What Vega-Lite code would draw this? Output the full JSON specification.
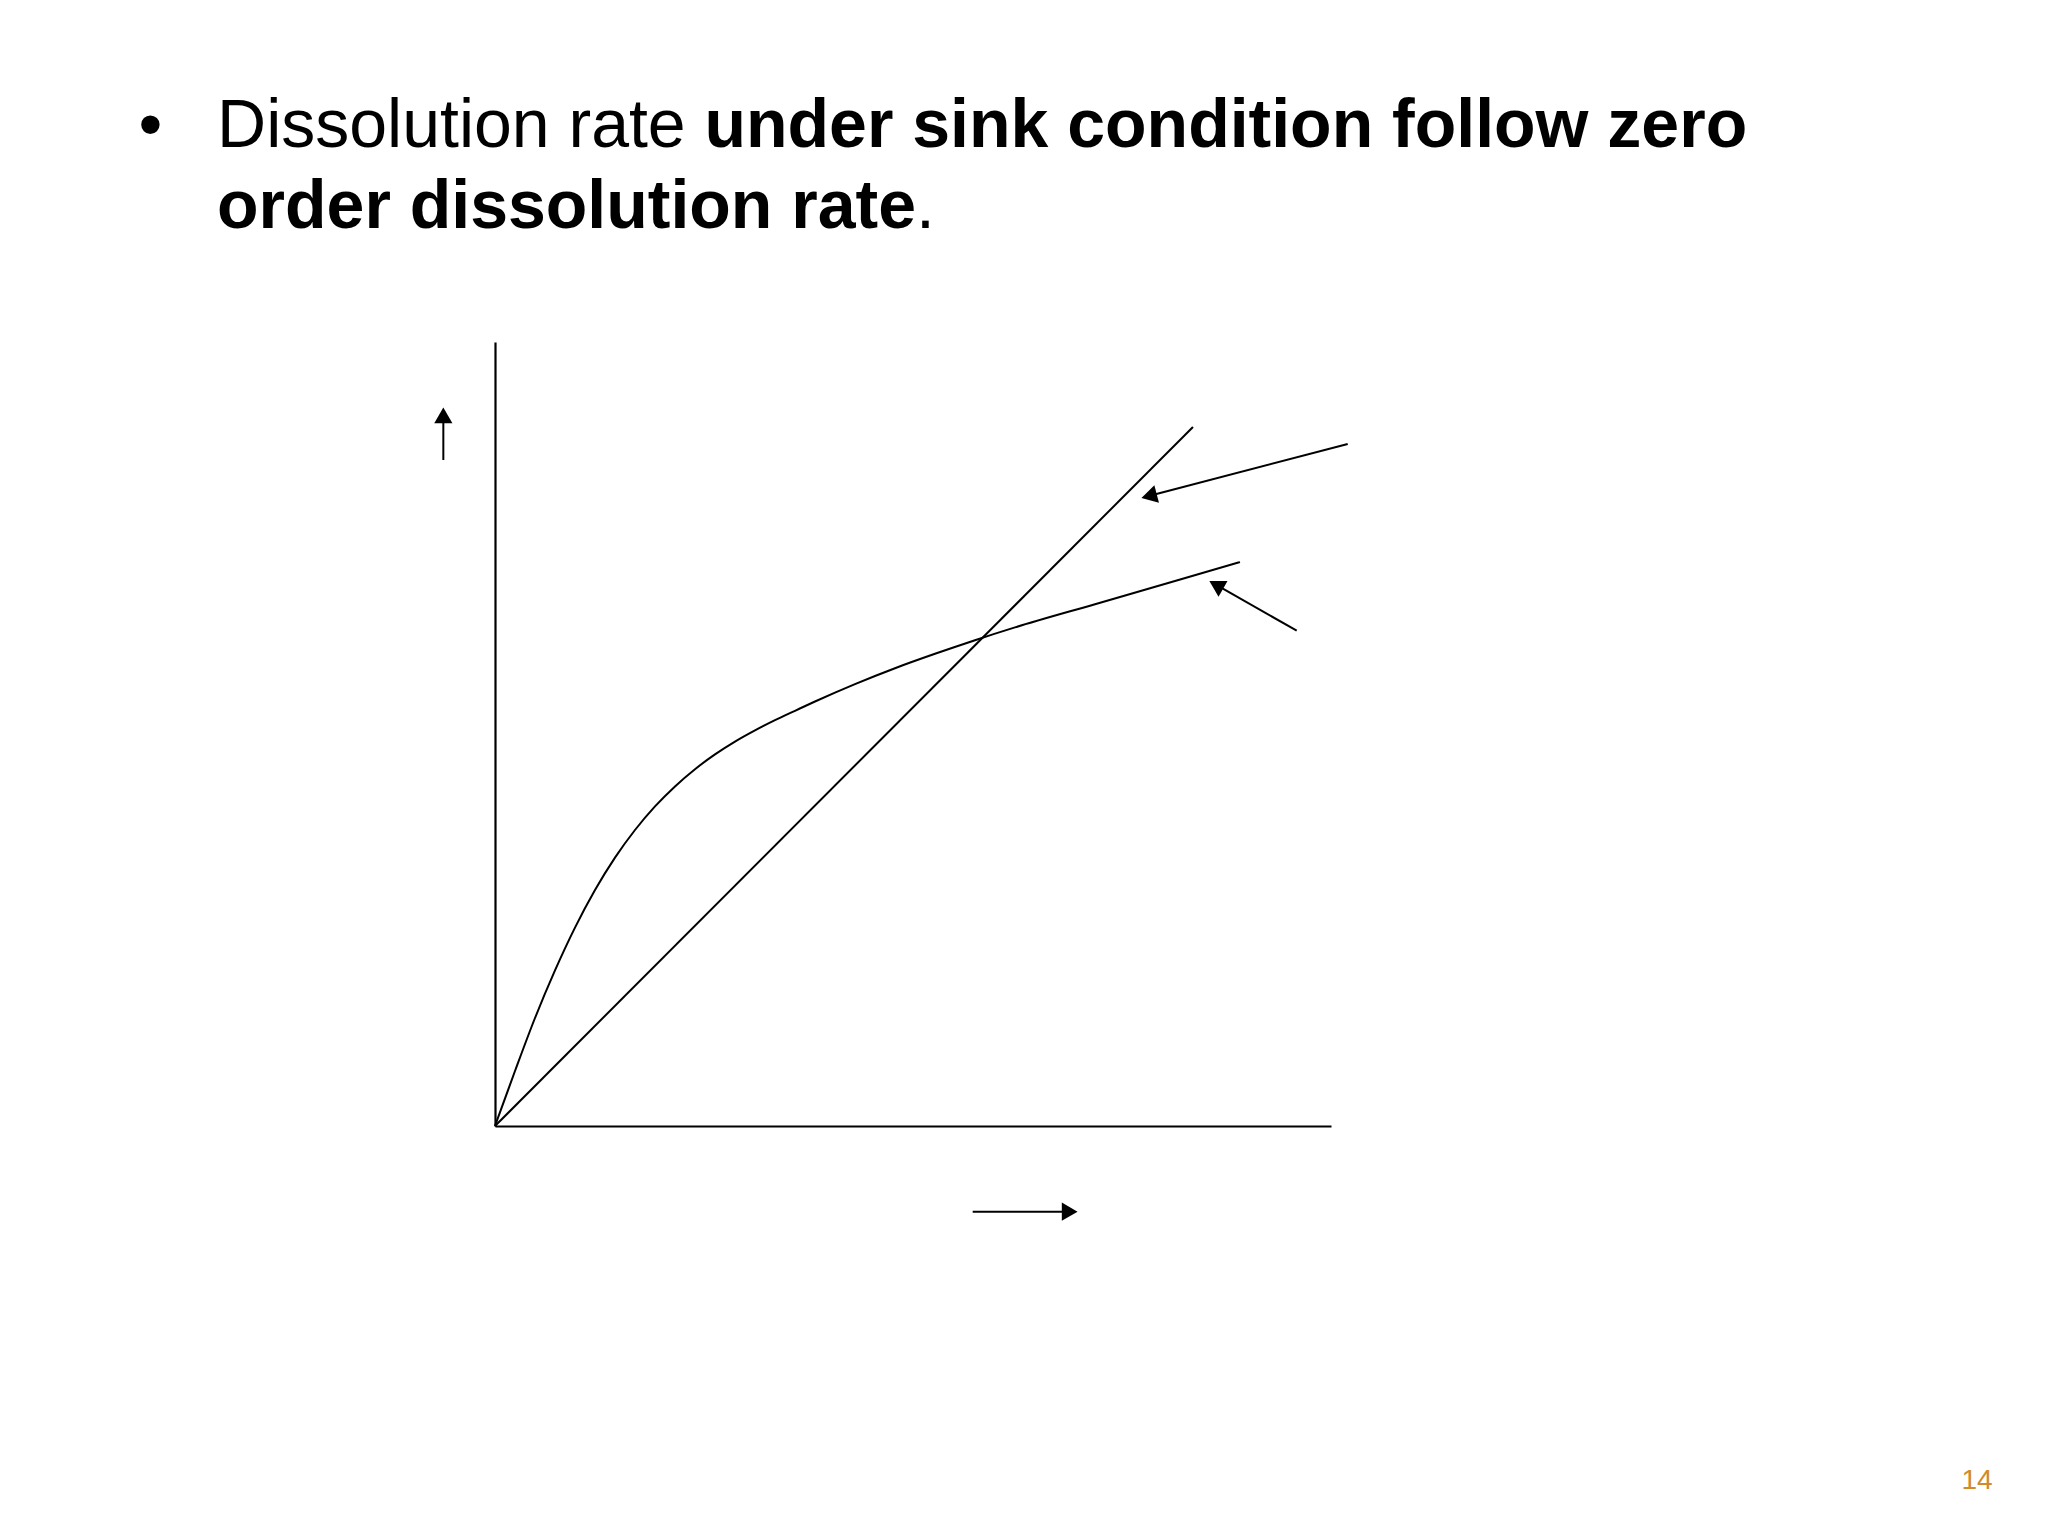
{
  "$schema": "https://vega.github.io/schema/vega-lite/v6.json",
  "autosize": {"type": "none"},
  "width": 836,
  "height": 784,
  "padding": {"left": 495, "top": 342, "right": 717, "bottom": 410},
  "background": "white",
  "config": {"view": {"stroke": null}},
  "datasets": {
    "curves": [
      {"series": "zero order", "t": 0, "amount": 0},
      {"series": "zero order", "t": 83.49, "amount": 89.16},
      {"series": "non-sink", "t": 0, "amount": 0},
      {"series": "non-sink", "t": 2.392, "amount": 7.015},
      {"series": "non-sink", "t": 4.785, "amount": 13.776},
      {"series": "non-sink", "t": 7.177, "amount": 19.847},
      {"series": "non-sink", "t": 9.569, "amount": 25.306},
      {"series": "non-sink", "t": 11.962, "amount": 30.102},
      {"series": "non-sink", "t": 14.354, "amount": 34.235},
      {"series": "non-sink", "t": 16.746, "amount": 37.755},
      {"series": "non-sink", "t": 19.139, "amount": 40.765},
      {"series": "non-sink", "t": 21.531, "amount": 43.316},
      {"series": "non-sink", "t": 23.923, "amount": 45.51},
      {"series": "non-sink", "t": 26.316, "amount": 47.398},
      {"series": "non-sink", "t": 28.708, "amount": 49.031},
      {"series": "non-sink", "t": 31.1, "amount": 50.459},
      {"series": "non-sink", "t": 33.493, "amount": 51.76},
      {"series": "non-sink", "t": 35.885, "amount": 52.959},
      {"series": "non-sink", "t": 38.278, "amount": 54.145},
      {"series": "non-sink", "t": 40.67, "amount": 55.281},
      {"series": "non-sink", "t": 43.062, "amount": 56.365},
      {"series": "non-sink", "t": 45.455, "amount": 57.398},
      {"series": "non-sink", "t": 47.847, "amount": 58.393},
      {"series": "non-sink", "t": 52.632, "amount": 60.23},
      {"series": "non-sink", "t": 57.416, "amount": 61.964},
      {"series": "non-sink", "t": 62.201, "amount": 63.597},
      {"series": "non-sink", "t": 71.77, "amount": 66.556},
      {"series": "non-sink", "t": 81.34, "amount": 69.515},
      {"series": "non-sink", "t": 89.115, "amount": 71.926}
    ],
    "arrows": [
      {"name": "to zero order", "x1": 102.0, "y1": 86.99, "x2": 78.54, "y2": 80.45, "angle": 255.3},
      {"name": "to non-sink", "x1": 95.9, "y1": 63.18, "x2": 86.54, "y2": 68.85, "angle": 299.7},
      {"name": "y direction", "x1": -6.18, "y1": 84.95, "x2": -6.18, "y2": 90.32, "angle": 0},
      {"name": "x direction", "x1": 57.14, "y1": -10.93, "x2": 68.43, "y2": -10.93, "angle": 90}
    ],
    "texts": [
      {"kind": "regular", "x": -42.64, "y": 124.91, "label": "•"},
      {"kind": "regular", "x": -33.25, "y": 124.91, "label": "Dissolution rate"},
      {"kind": "bold", "x": 25.06, "y": 124.91, "label": "under sink condition follow zero"},
      {"kind": "bold", "x": -33.25, "y": 114.5, "label": "order dissolution rate"},
      {"kind": "regular", "x": 50.36, "y": 114.5, "label": "."},
      {"kind": "page", "x": 177.27, "y": -46.3, "label": "14"}
    ]
  },
  "layer": [
    {
      "data": {"name": "curves"},
      "mark": {"type": "line", "interpolate": "monotone", "color": "#000000", "strokeWidth": 2},
      "encoding": {
        "x": {"field": "t", "type": "quantitative", "scale": {"domain": [0, 100], "nice": false, "zero": false},
              "axis": {"title": null, "ticks": false, "labels": false, "grid": false, "domainColor": "#000000", "domainWidth": 2.2}},
        "y": {"field": "amount", "type": "quantitative", "scale": {"domain": [0, 100], "nice": false, "zero": false},
              "axis": {"title": null, "ticks": false, "labels": false, "grid": false, "domainColor": "#000000", "domainWidth": 2.2}},
        "detail": {"field": "series"}
      }
    },
    {
      "data": {"name": "arrows"},
      "mark": {"type": "rule", "color": "#000000", "strokeWidth": 2},
      "encoding": {
        "x": {"field": "x1", "type": "quantitative"},
        "y": {"field": "y1", "type": "quantitative"},
        "x2": {"field": "x2"},
        "y2": {"field": "y2"}
      }
    },
    {
      "data": {"name": "arrows"},
      "mark": {"type": "point", "shape": "triangle", "filled": true, "color": "#000000", "size": 330, "opacity": 1},
      "encoding": {
        "x": {"field": "x2", "type": "quantitative"},
        "y": {"field": "y2", "type": "quantitative"},
        "angle": {"field": "angle", "type": "quantitative", "scale": null}
      }
    },
    {
      "data": {"name": "texts"},
      "transform": [{"filter": "datum.kind === 'regular'"}],
      "mark": {"type": "text", "align": "left", "baseline": "alphabetic", "font": "Liberation Sans", "fontSize": 68, "color": "#000000"},
      "encoding": {
        "x": {"field": "x", "type": "quantitative"},
        "y": {"field": "y", "type": "quantitative"},
        "text": {"field": "label"}
      }
    },
    {
      "data": {"name": "texts"},
      "transform": [{"filter": "datum.kind === 'bold'"}],
      "mark": {"type": "text", "align": "left", "baseline": "alphabetic", "font": "Liberation Sans", "fontWeight": "bold", "fontSize": 68, "color": "#000000"},
      "encoding": {
        "x": {"field": "x", "type": "quantitative"},
        "y": {"field": "y", "type": "quantitative"},
        "text": {"field": "label"}
      }
    },
    {
      "data": {"name": "texts"},
      "transform": [{"filter": "datum.kind === 'page'"}],
      "mark": {"type": "text", "align": "center", "baseline": "alphabetic", "font": "Liberation Sans", "fontSize": 28, "color": "#D18B2A"},
      "encoding": {
        "x": {"field": "x", "type": "quantitative"},
        "y": {"field": "y", "type": "quantitative"},
        "text": {"field": "label"}
      }
    }
  ]
}
